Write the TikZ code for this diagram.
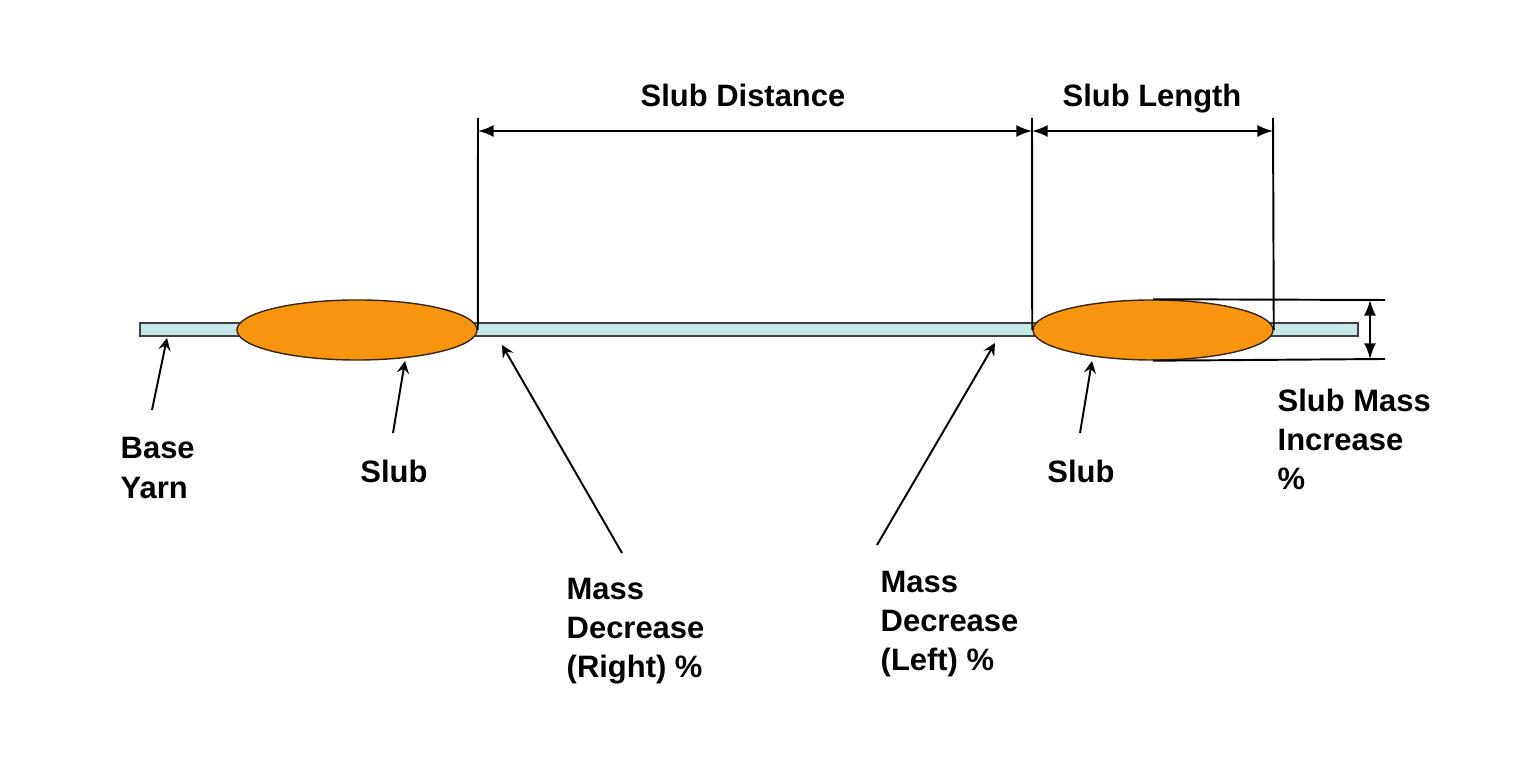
\documentclass[tikz,border=0pt]{standalone}
\usepackage{fontspec}
\setmainfont{Liberation Sans}
\usetikzlibrary{arrows,shapes.geometric}
\definecolor{yarnblue}{RGB}{198,232,232}
\definecolor{sluborange}{RGB}{247,150,14}
\tikzstyle{label} = [font=\fontsize{8.8}{11.1}\selectfont\bfseries, align=left, inner sep=0pt]
\tikzstyle{yarn} = [rectangle, minimum width=12.18cm, minimum height=0.13cm, inner sep=0pt, draw=black!75, fill=yarnblue, line width=0.5pt]
\tikzstyle{slub} = [ellipse, minimum width=2.4cm, minimum height=0.6cm, inner sep=0pt, draw=black!70!brown, fill=sluborange, line width=0.4pt]

\begin{document}
\begin{tikzpicture}[x=0.01cm,y=-0.01cm]
        \tikzset{ptr/.style={->,>=stealth,line width=0.55pt},
            dim/.style={<->,>=latex,line width=0.55pt},
            ext/.style={line width=0.55pt}}
        \useasboundingbox (0,0) rectangle (1536,762);

        % extension lines (drawn below the yarn)
        \coordinate (dA) at (478,118);
        \coordinate (dB) at (1032,118);
        \coordinate (dC) at (1273,118);
        \node (base) [yarn] at (749,329.5) {};
        \node (slubA) [slub] at (357,330) {};
        \node (slubB) [slub] at (1153,330) {};
        \draw [ext] (dA) -- (slubA.east);
        \draw [ext] (dB) -- (slubB.west);
        \draw [ext] (dC) -- (slubB.east);

        % dimensions at the top
        \coordinate (aA) at (478,131);
        \coordinate (aB) at (1032,131);
        \coordinate (aC) at (1273,131);
        \draw [dim] (aA) -- (aB);
        \draw [dim] (aB) -- (aC);
        \node (dist) [label, anchor=base] at (743,107) {Slub Distance};
        \node (len) [label, anchor=base] at (1152,107) {Slub Length};

        % slub mass
        \coordinate (mTop) at (1385,300);
        \coordinate (mBot) at (1385,359);
        \draw [ext] (slubB.north) -- (mTop);
        \draw [ext] (slubB.south) -- (mBot);
        \coordinate (hTop) at (1370,300);
        \coordinate (hBot) at (1370,359);
        \draw [dim] (hTop) -- (hBot);
        \node (mass) [label, anchor=west] at (1277,439) {Slub Mass\\Increase\\\%};

        % labels below
        \node (baseLbl) [label, anchor=west] at (120,468) {Base\\Yarn};
        \node (slubLblA) [label] at (394,471) {Slub};
        \node (slubLblB) [label] at (1081,471) {Slub};
        \node (decR) [label, anchor=west] at (566,631) {Mass\\Decrease\\(Right) \%};
        \node (decL) [label, anchor=west] at (880,624) {Mass\\Decrease\\(Left) \%};

        % pointers
        \coordinate (pBase) at (167,338);
        \coordinate (pSlubA) at (405,361);
        \coordinate (pDecR) at (502,345);
        \coordinate (pDecL) at (995,343);
        \coordinate (pSlubB) at (1092,361);
        \draw [ptr] (152,410) -- (pBase);
        \draw [ptr] (393,433) -- (pSlubA);
        \draw [ptr] (622,553) -- (pDecR);
        \draw [ptr] (877,545) -- (pDecL);
        \draw [ptr] (1080,433) -- (pSlubB);
\end{tikzpicture}
\end{document}
